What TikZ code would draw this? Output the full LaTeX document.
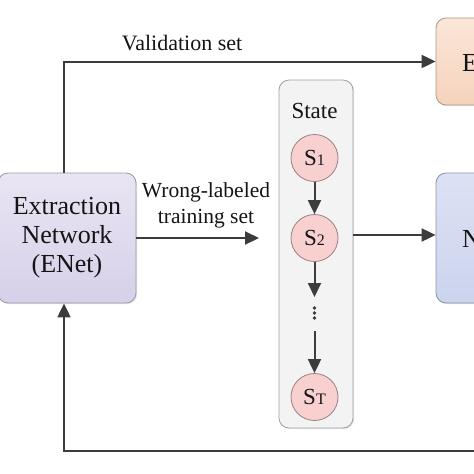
\documentclass[tikz,border=0pt]{standalone}
\usepackage{fontspec}
\setmainfont{Liberation Serif}
\usetikzlibrary{arrows.meta,shadows}
\definecolor{ln}{HTML}{3C3C3C}
\definecolor{txt}{HTML}{141414}
\definecolor{enetT}{HTML}{E9E5F4}
\definecolor{enetB}{HTML}{D6D0E8}
\definecolor{enetD}{HTML}{9A98A8}
\definecolor{blueT}{HTML}{DCE2F4}
\definecolor{blueB}{HTML}{CCD4EE}
\definecolor{blueD}{HTML}{8A92AA}
\definecolor{orT}{HTML}{FBE6D8}
\definecolor{orB}{HTML}{F5D3BC}
\definecolor{orD}{HTML}{A89888}
\definecolor{stF}{HTML}{F3F3F3}
\definecolor{stD}{HTML}{A0A0A0}
\definecolor{cirF}{HTML}{F8D0D0}
\definecolor{cirD}{HTML}{9A8080}
\begin{document}
\begin{tikzpicture}[x=1pt,y=-1pt,
  conn/.style={draw=ln,line width=2pt,-{Triangle[length=14pt,width=13pt]}},
  bigbox/.style={rectangle,rounded corners=10pt,line width=0.8pt,inner sep=0pt,
    minimum height=130pt,align=center,text=txt,
    font=\fontsize{26}{29}\selectfont,
    drop shadow={shadow xshift=1.2pt,shadow yshift=-1.2pt,opacity=0.2}},
  statebox/.style={rectangle,rounded corners=10pt,line width=0.8pt,draw=stD,fill=stF,
    minimum width=74pt,minimum height=348pt,inner sep=0pt,
    drop shadow={shadow xshift=1.2pt,shadow yshift=-1.2pt,opacity=0.2}},
  stnode/.style={circle,draw=cirD,fill=cirF,line width=0.8pt,minimum size=47pt,inner sep=0pt,text=txt},
  lbl/.style={text=txt,inner sep=0pt},
  dotm/.style={circle,fill=ln,inner sep=0pt,minimum size=3.6pt},
]
\useasboundingbox (0,0) rectangle (474,474);
\clip (0,0) rectangle (474,474);

% boxes
\node[bigbox,draw=enetD,top color=enetT,bottom color=enetB,minimum width=138pt] (enet) at (67,238) {Extraction\\Network\\(ENet)};
\node[bigbox,draw=orD,top color=orT,bottom color=orB,minimum width=90pt,minimum height=87pt] (ebox) at (481,61.5) {};
\node[bigbox,draw=blueD,top color=blueT,bottom color=blueB,minimum width=90pt] (nbox) at (481,238) {};
\node[lbl,anchor=base west,font=\fontsize{26}{29}\selectfont] (etext) at (462,71) {E};
\node[lbl,anchor=base west,font=\fontsize{26}{29}\selectfont] (ntext) at (462,247) {N};

% state container
\node[statebox] (state) at (316,254) {};
\node[lbl,anchor=base,font=\fontsize{23}{23}\selectfont] (statelbl) at (314.5,118) {State};

\newcommand{\stlab}[1]{{\fontsize{23}{23}\selectfont S}\raisebox{-0.5pt}{\fontsize{16}{16}\selectfont #1}}
\node[stnode] (s1) at (314.5,158) {\stlab{1}};
\node[stnode] (s2) at (314.5,238) {\stlab{2}};
\node[stnode] (st) at (314.5,397) {\stlab{T}};

\node[dotm] (d1) at (314.5,308) {};
\node[dotm] (d2) at (314.5,313) {};
\node[dotm] (d3) at (314.5,318) {};
\coordinate (dtop) at (314.5,297);
\coordinate (dbot) at (314.5,331);

\draw[conn] (s1) -- (s2);
\draw[conn] (s2) -- (dtop);
\draw[conn] (dbot) -- (st);

% labels
\node[lbl,anchor=base,font=\fontsize{22}{22}\selectfont] (vlab) at (182,50) {Validation set};
\node[lbl,align=center,font=\fontsize{21.5}{26}\selectfont] (wlab) at (206,205) {Wrong-labeled\\training set};

% connectors
\coordinate (wend) at (259,238);
\draw[conn] (enet.east |- wend) -- (wend);
\draw[conn] ([xshift=-3pt]enet.north) |- (ebox.west);
\draw[conn] ([yshift=3pt]state.east |- s2) -- ([yshift=3pt]nbox.west |- s2);
\coordinate (loopR) at (490,451);
\draw[conn] (loopR) -| ([xshift=-3pt]enet.south);
\end{tikzpicture}
\end{document}
